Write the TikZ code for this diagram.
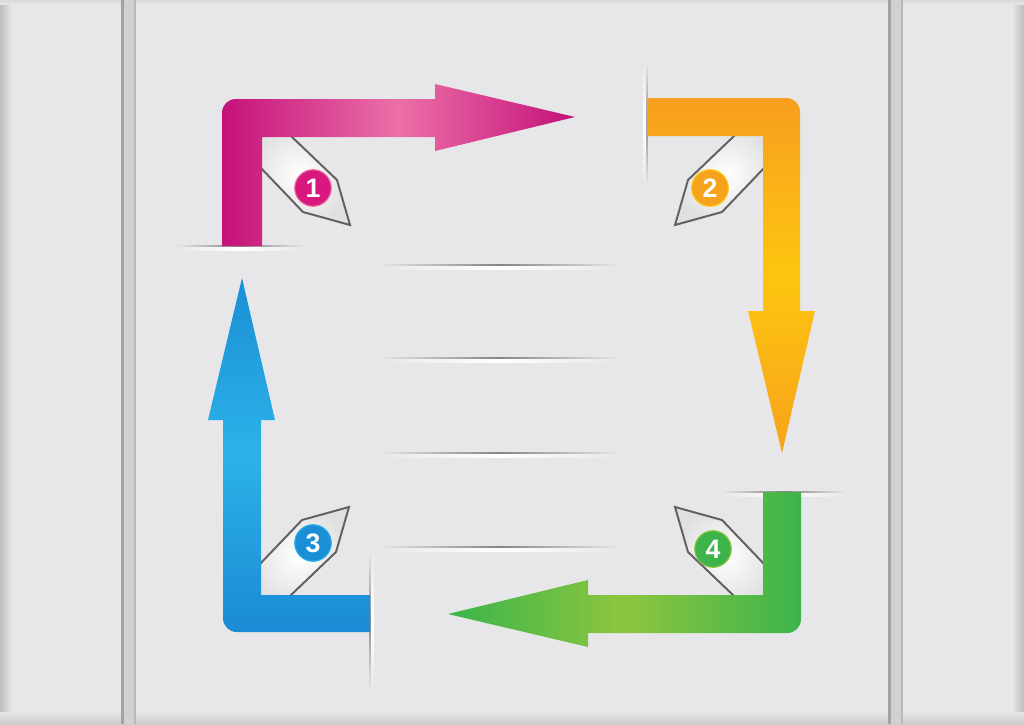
\documentclass[tikz,border=0pt]{standalone}
\usepackage{fontspec}
\setmainfont{Liberation Sans}
\definecolor{bg}{RGB}{231,231,233}
\definecolor{pinkD}{RGB}{196,17,121}
\definecolor{pinkL}{RGB}{236,112,168}
\definecolor{pinkM}{RGB}{214,24,127}
\definecolor{oraD}{RGB}{247,158,30}
\definecolor{oraL}{RGB}{254,198,16}
\definecolor{oraM}{RGB}{247,162,27}
\definecolor{bluD}{RGB}{26,138,212}
\definecolor{bluL}{RGB}{44,178,232}
\definecolor{bluM}{RGB}{26,143,214}
\definecolor{grnD}{RGB}{58,180,74}
\definecolor{grnL}{RGB}{141,198,63}
\definecolor{grnM}{RGB}{60,180,74}
\newcommand{\hslit}[3]{%
  \shade[left color=bg, right color=bg, middle color=black!48] (#1,#3-0.8) rectangle (#2,#3+0.8);
  \shade[left color=bg, right color=bg, middle color=white] (#1,#3+1) rectangle (#2,#3+4);}
\newcommand{\vslit}[4]{%
  \shade[top color=bg, bottom color=bg, middle color=black!45] (#3-0.8,#1) rectangle (#3+0.8,#2);
  \shade[top color=bg, bottom color=bg, middle color=white] (#3+#4*1,#1) rectangle (#3+#4*4,#2);}
\newcommand{\drawtag}[4]{%
  \begin{scope}[shift={(#1,#2)}, xscale=#3, yscale=#4]
    \shade[inner color=white, outer color=black!12, draw=black!62, line width=1.4pt, line join=miter]
      (-13,19) -- (-2,30) -- (41,75) -- (88,88) -- (75,43) -- (30,0) -- (19,-11) -- (-12,-10) -- cycle;
  \end{scope}}
\begin{document}
\begin{tikzpicture}[x=0.25mm,y=-0.25mm,
  badge/.style={circle, minimum size=26pt, inner sep=0pt, text=white,
    font=\fontsize{19}{19}\selectfont\bfseries, line width=0.8pt}]
\useasboundingbox (0,0) rectangle (1024,724);
% background
\fill[bg] (0,0) rectangle (1024,724);
\shade[left color=black!26, right color=bg] (0,0) rectangle (12,724);
\shade[left color=bg, right color=black!26] (1012,0) rectangle (1024,724);
\shade[top color=bg, bottom color=black!20] (0,712) rectangle (1024,724);
\shade[top color=black!15, bottom color=bg] (0,0) rectangle (1024,4);
% vertical bars
\fill[black!18] (121,0) rectangle (136,724);
\fill[black!36] (121,0) rectangle (123.5,724);
\fill[black!28] (134,0) rectangle (136,724);
\fill[black!18] (888,0) rectangle (903,724);
\fill[black!36] (888,0) rectangle (890.5,724);
\fill[black!28] (901,0) rectangle (903,724);
% text slits
\hslit{378}{620}{265}
\hslit{378}{620}{358}
\hslit{378}{620}{453}
\hslit{378}{620}{547}
% slits where arrows come out
\hslit{177}{303}{246}
\hslit{722}{845}{492}
\vslit{62}{185}{647}{-1}
\vslit{552}{690}{370}{1}
% tags
\drawtag{262}{137}{1}{1}
\drawtag{763}{137}{-1}{1}
\drawtag{261}{595}{1}{-1}
\drawtag{763}{595}{-1}{-1}
% arrows
\shade[left color=pinkD, right color=pinkD, middle color=pinkL]
  (222,246) -- (222,113) .. controls (222,105) and (228,99) .. (236,99)
  -- (435,99) -- (435,84) -- (575,117) -- (435,151) -- (435,137)
  -- (262,137) -- (262,246) -- cycle;
\shade[top color=oraD, bottom color=oraM, middle color=oraL]
  (647,98) -- (786,98) .. controls (794,98) and (800,104) .. (800,112)
  -- (800,311) -- (815,311) -- (782,453) -- (748,311) -- (763,311)
  -- (763,136) -- (647,136) -- cycle;
\shade[top color=bluM, bottom color=bluD, middle color=bluL]
  (370,595) -- (261,595) -- (261,420) -- (275,420) -- (242,278)
  -- (208,420) -- (223,420) -- (223,618) .. controls (223,626) and (229,632) .. (237,632)
  -- (370,632) -- cycle;
\shade[left color=grnD, right color=grnM, middle color=grnL]
  (763,492) -- (801,492) -- (801,619) .. controls (801,627) and (795,633) .. (787,633)
  -- (588,633) -- (588,647) -- (448,614) -- (588,580) -- (588,595)
  -- (763,595) -- cycle;
% badges
\node[badge, fill=pinkM, draw=pinkL] (b1) at (313,188) {1};
\node[badge, fill=oraM, draw=oraL] (b2) at (710,188) {2};
\node[badge, fill=bluM, draw=bluL] (b3) at (313,543) {3};
\node[badge, fill=grnM, draw=grnL] (b4) at (713,549) {4};
\end{tikzpicture}
\end{document}
